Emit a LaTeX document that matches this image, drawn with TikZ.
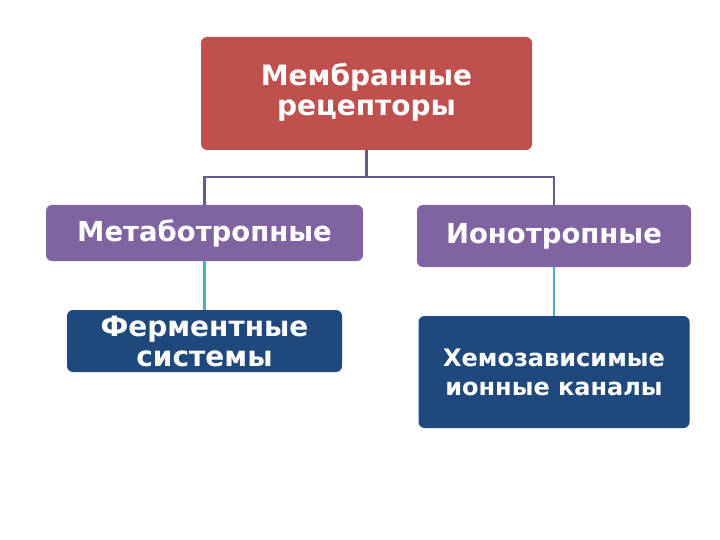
\documentclass[tikz,border=0pt]{standalone}
\usepackage{fontspec}
\setmainfont{DejaVu Sans}
\usepackage{tikz}
\usetikzlibrary{positioning}
\definecolor{topred}{HTML}{C0504D}
\definecolor{midviolet}{HTML}{8064A2}
\definecolor{lowblue}{HTML}{1F497D}
\definecolor{linkgray}{HTML}{5E5E86}
\definecolor{linkteal}{HTML}{4BACC6}
\tikzset{
  box/.style={rectangle, rounded corners=6pt, text=white, align=center, inner sep=0pt, font=\bfseries},
  topbox/.style={box, fill=topred, minimum width=331pt, minimum height=113pt, font=\bfseries\fontsize{28}{30}\selectfont},
  midbox/.style={box, fill=midviolet, font=\bfseries\fontsize{27.5}{30}\selectfont},
  lowbox/.style={box, fill=lowblue},
  upline/.style={draw=linkgray, line width=2.2pt},
  downline/.style={draw=linkteal, line width=2.2pt}
}

\begin{document}
\begin{tikzpicture}[x=1pt, y=-1pt]
\useasboundingbox (0,0) rectangle (720,540);
\node[topbox, text depth=8pt] (REC) at (366.5,93.5) {Мембранные\\рецепторы};
\node[midbox, minimum width=317pt, minimum height=56pt] (META) at (204.5,233) {Метаботропные};
\node[midbox, minimum width=274pt, minimum height=62pt] (IONO) at (554,236) {Ионотропные};
\node[lowbox, minimum width=275pt, minimum height=62pt, font=\bfseries\fontsize{28}{30}\selectfont] (FERM) at (204.5,341) {Ферментные\\системы};
\node[lowbox, minimum width=271pt, minimum height=112pt, font=\bfseries\fontsize{24}{29}\selectfont] (CHEM) at (554,372) {Хемозависимые\\ионные каналы};
\coordinate (SPLIT) at (366.5,177);
\draw[upline] (REC.south) -- (SPLIT);
\draw[upline] (META.north) |- (SPLIT) -| (IONO.north);
\draw[downline] (META.south) -- (FERM.north);
\draw[downline] (IONO.south) -- (CHEM.north);
\end{tikzpicture}
\end{document}
